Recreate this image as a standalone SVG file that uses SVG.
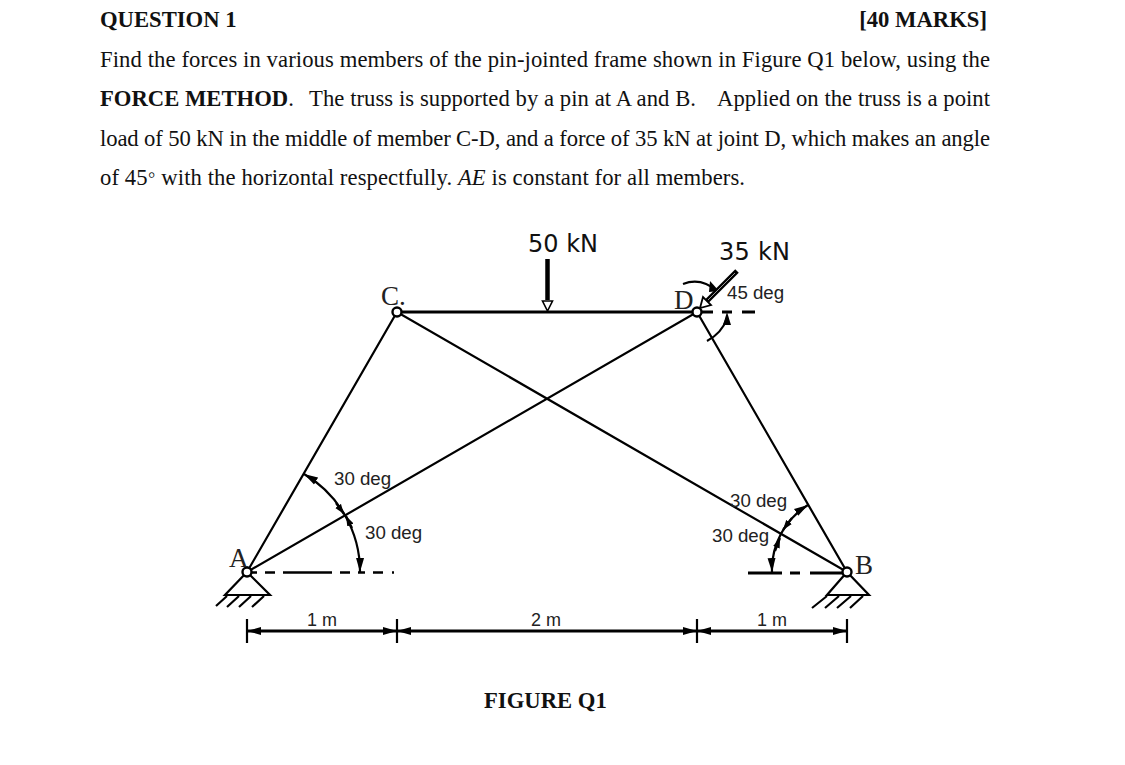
<svg xmlns="http://www.w3.org/2000/svg" width="1125" height="765" viewBox="0 0 1125 765">
<style>
.t{font-family:"Liberation Serif","Times New Roman",serif;font-size:22.67px;fill:#111}
.b{font-weight:bold}
.s{font-family:"Liberation Sans",Arial,sans-serif;font-size:18.700px;fill:#222}
.d{font-family:"Liberation Sans",Arial,sans-serif;font-size:18px;fill:#222}
.k{font-family:"DejaVu Sans",sans-serif;font-size:24px;fill:#111}
.n{font-family:"Liberation Serif",serif;font-size:27px;fill:#222}
.m{fill:none;stroke:#000;stroke-width:2.200}
.h{fill:none;stroke:#000;stroke-width:3}
.pin{fill:#fff;stroke:#000;stroke-width:2.400}
</style>
<defs>
<marker id="ar" markerUnits="userSpaceOnUse" markerWidth="14" markerHeight="10" refX="14" refY="5" orient="auto"><path d="M0,1 L14,5 L0,9 Z" fill="#000"/></marker>
<marker id="arS" markerUnits="userSpaceOnUse" markerWidth="14" markerHeight="10" refX="0" refY="5" orient="auto"><path d="M14,1 L0,5 L14,9 Z" fill="#000"/></marker>
<marker id="sm" markerUnits="userSpaceOnUse" markerWidth="10" markerHeight="8" refX="10" refY="4" orient="auto"><path d="M0,0.500 L10,4 L0,7.500 Z" fill="#000"/></marker>
</defs>
<rect width="1125" height="765" fill="#fff"/>
<g id="heading">
<text class="t b" x="100" y="27">QUESTION 1</text>
<text class="t b" x="987" y="27" text-anchor="end">[40 MARKS]</text>
<text class="t" x="100" y="67" textLength="890">Find the forces in various members of the pin-jointed frame shown in Figure Q1 below, using the</text>
<text class="t" x="100" y="106"><tspan class="b">FORCE METHOD</tspan>.</text>
<text class="t" x="309" y="106" textLength="387">The truss is supported by a pin at A and B.</text>
<text class="t" x="717" y="106" textLength="273">Applied on the truss is a point</text>
<text class="t" x="100" y="146" textLength="890">load of 50 kN in the middle of member C-D, and a force of 35 kN at joint D, which makes an angle</text>
<text class="t" x="100" y="185" textLength="645">of 45<tspan font-size="22" dy="-3">◦</tspan><tspan dy="3"> with the horizontal respectfully. </tspan><tspan font-style="italic">AE</tspan> is constant for all members.</text>
</g>
<g id="connectors">
<path class="h" d="M397,312 H697"/>
<path class="m" d="M247,572 L397,312 L847,572 L697,312 L247,572"/>
<g id="reference-lines">
<path class="h" style="stroke-width:2.400" d="M251,572.500 H257 M265,572.500 H275 M283,572.500 H332 M340,572.500 H350 M358,572.500 H365 M373,572.500 H383 M392,572.500 H394"/>
<path class="h" d="M748,573 H782 M790,573 H800 M810,573 H843"/>
<path class="h" d="M700,312 H713 M722,312 H732 M742,312 H755"/>
</g>
<g id="angle-arcs">
<path class="m" marker-start="url(#arS)" marker-end="url(#ar)" d="M304,474 A113,113 0 0 1 360,572"/>
<path class="m" marker-end="url(#sm)" d="M336,503 L344,514"/>
<path class="m" marker-end="url(#sm)" d="M352,528 L346,516"/>
<path class="m" marker-start="url(#arS)" marker-end="url(#ar)" d="M808,505 A76,76 0 0 0 772,572"/>
<path class="m" marker-end="url(#sm)" d="M792,518 L783,530"/>
<path class="m" marker-end="url(#sm)" d="M775,551 L780,538"/>
<path class="m" d="M683,284 Q701,277 717,291"/>
<path class="m" d="M707,341 Q722,333 727,318"/>
<path d="M727,312 L723,325 L731,325 Z" fill="#000"/>
<path d="M710,281 L719,291 L709,292 Z" fill="#000"/>
</g>
<g id="load-50">
<path d="M547.500,259 V300" stroke="#000" stroke-width="4.500" fill="none"/>
<path d="M542.500,301 H552.500 L547.500,311 Z" fill="#fff" stroke="#000" stroke-width="1.600"/>
</g>
<g id="load-35">
<path d="M737,271 L707,301" stroke="#000" stroke-width="5" fill="none"/>
<path d="M735,273 L708,300" stroke="#999" stroke-width="1" fill="none"/>
<path d="M700,308 L703,297 L711,305 Z" fill="#fff" stroke="#000" stroke-width="1.800"/>
</g>
<g id="dimensions">
<path class="h" d="M247,631 H847"/>
<path class="m" d="M247,619 V643 M397,619 V643 M697,619 V643 M847,619 V643"/>
<path d="M247,631 L261,627 V635 Z M397,631 L383,627 V635 Z M397,631 L411,627 V635 Z M697,631 L683,627 V635 Z M697,631 L711,627 V635 Z M847,631 L833,627 V635 Z" fill="#000"/>
</g>
</g>
<g id="node-A">
<path class="m" d="M247,572 L225,595 H270 Z"/>
<path class="m" d="M227,596 L216,606 M239,596 L227,607 M251,596 L239,607 M264,596 L252,607"/>
<circle class="pin" cx="247" cy="572" r="4.500"/>
<text class="n" x="229" y="567">A</text>
</g>
<g id="node-B">
<path class="m" d="M847,572 L827,595 H869 L847,572"/>
<path class="m" d="M827,596 L812,608 M839,596 L825,608 M851,596 L837,608 M863,596 L850,608"/>
<circle class="pin" cx="847" cy="572" r="4.500"/>
<text class="n" x="855" y="574">B</text>
</g>
<g id="node-C">
<circle class="pin" cx="397" cy="312" r="4.500"/>
<text class="n" x="381" y="305">C.</text>
</g>
<g id="node-D">
<circle class="pin" cx="697" cy="312" r="4.500"/>
<text class="n" x="674" y="309">D</text>
</g>
<g id="labels">
<text class="k" x="528" y="252">50 kN</text>
<text class="k" x="719" y="260" textLength="71">35 kN</text>
<text class="s" x="727" y="299">45 deg</text>
<text class="s" x="334" y="485">30 deg</text>
<text class="s" x="365" y="539">30 deg</text>
<text class="s" x="730" y="507">30 deg</text>
<text class="s" x="712" y="542">30 deg</text>
<text class="d" x="307" y="626">1 m</text>
<text class="d" x="531" y="626">2 m</text>
<text class="d" x="757" y="626">1 m</text>
<text class="t b" x="484" y="708">FIGURE Q1</text>
</g>
</svg>
